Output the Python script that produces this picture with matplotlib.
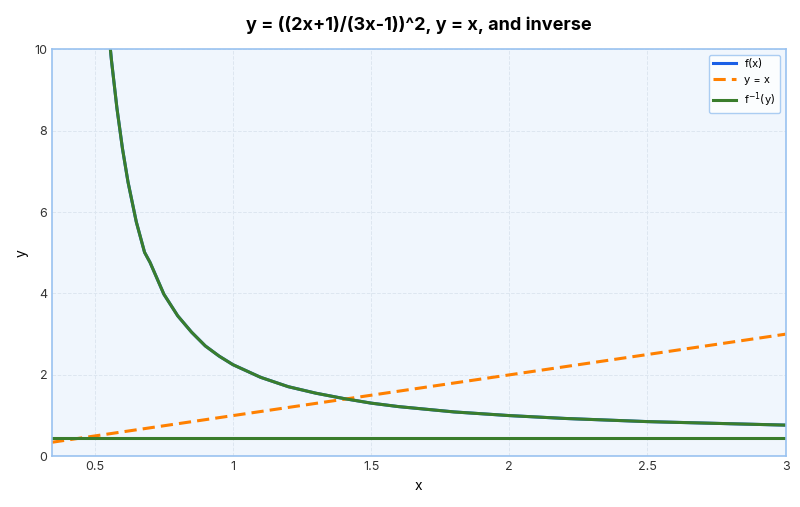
import matplotlib
matplotlib.use("Agg")
import matplotlib.pyplot as plt

plt.rcParams['font.family'] = ['Inter', 'DejaVu Sans']

x_f = [0.55, 0.56, 0.58, 0.6, 0.62, 0.65, 0.68, 0.7, 0.75, 0.8, 0.85, 0.9, 0.95, 1.0,
       1.1, 1.2, 1.3, 1.4, 1.5, 1.6, 1.8, 2.0, 2.2, 2.5, 2.8, 3.0]
y_f = [10.44, 9.74, 8.55, 7.56, 6.74, 5.76, 5.01, 4.76, 3.98, 3.45, 3.05, 2.71, 2.46, 2.25,
       1.94, 1.71, 1.55, 1.42, 1.306, 1.22, 1.09, 1.0, 0.93, 0.852, 0.80, 0.766]
x_id = [0.345, 3.0]
y_id = [0.345, 3.0]
x_h = [0.345, 3.0]
y_h = [0.444, 0.444]

fig, ax = plt.subplots(figsize=(8, 5.07), dpi=100)
fig.subplots_adjust(left=0.065, right=0.982, top=0.903, bottom=0.1)
ax.set_facecolor('#f0f6fd')
ax.plot(x_f, y_f, color='#1a5fe6', lw=2.2, label='f(x)')
ax.plot(x_id, y_id, color='#ff8000', lw=2.2, ls='--', dashes=(4, 2), label='y = x')
ax.plot(x_f, y_f, color='#3a7d2c', lw=2.2, label='f$^{-1}$(y)')
ax.plot(x_h, y_h, color='#3a7d2c', lw=2.2)
ax.set_xlim(0.345, 3.0)
ax.set_ylim(0, 10)
ax.set_xticks([0.5, 1, 1.5, 2, 2.5, 3])
ax.set_xticklabels(['0.5', '1', '1.5', '2', '2.5', '3'])
ax.grid(True, color='#dde6f0', lw=0.7, ls='--')
for s in ax.spines.values():
    s.set_color('#99c2f0')
    s.set_linewidth(1.2)
ax.tick_params(length=0, labelsize=9, colors='#333333')
ax.set_xlabel('x', fontsize=10)
ax.set_ylabel('y', fontsize=10)
ax.set_title('y = ((2x+1)/(3x-1))^2, y = x, and inverse', fontsize=13, fontweight='bold', pad=14)
leg = ax.legend(loc='upper right', fontsize=8, frameon=True)
leg.get_frame().set_edgecolor('#99c2f0')
fig.savefig('out.png', dpi=100)
